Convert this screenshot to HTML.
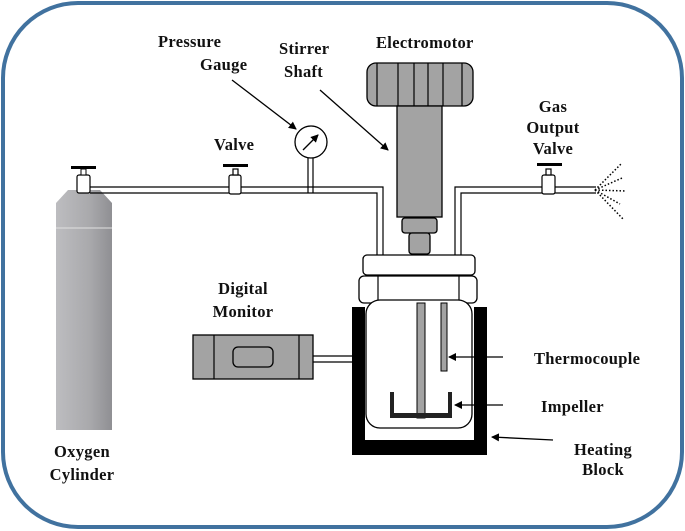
<!DOCTYPE html>
<html><head><style>body{margin:0;background:#fff}svg{display:block}text{font-family:"Liberation Serif",serif;font-weight:bold;font-size:16.5px;letter-spacing:0.3px;fill:#111}</style></head><body>
<svg width="685" height="531" viewBox="0 0 685 531">
<defs>
<linearGradient id="cy" x1="0" x2="1"><stop offset="0" stop-color="#bdbdc0"/><stop offset="0.6" stop-color="#a9a9ac"/><stop offset="1" stop-color="#8f8f93"/></linearGradient>
<marker id="ar" markerWidth="8" markerHeight="8" refX="7" refY="4" orient="auto" markerUnits="userSpaceOnUse"><path d="M0,0 L8,4 L0,8 Z" fill="#000"/></marker>
</defs>
<rect x="3" y="3" width="679" height="524" rx="75" fill="none" stroke="#41729f" stroke-width="4"/>
<path d="M56,203 L68,190 L100,190 L112,203 L112,430 L56,430 Z" fill="url(#cy)"/>
<line x1="56" y1="228" x2="112" y2="228" stroke="#e0e0e0" stroke-width="1"/>
<rect x="77" y="175" width="13" height="18" rx="2" fill="#fff" stroke="#000" stroke-width="1.2"/>
<rect x="81" y="169" width="5" height="6" fill="#fff" stroke="#000"/>
<rect x="71" y="166" width="25" height="3" fill="#000"/>
<g fill="none" stroke="#000" stroke-width="1.2">
<path d="M90,187 H383 V255"/><path d="M90,193 H377 V255"/>
<path d="M596,187 H455 V255"/><path d="M596,193 H461 V255"/>
<line x1="308" y1="158" x2="308" y2="193"/><line x1="313" y1="158" x2="313" y2="193"/>
<line x1="313" y1="356" x2="352" y2="356"/><line x1="313" y1="362" x2="352" y2="362"/>
</g>
<g fill="#fff" stroke="#000" stroke-width="1.2">
<rect x="229" y="175" width="12" height="19" rx="2"/><rect x="233" y="169" width="5" height="6"/>
<rect x="542" y="175" width="13" height="19" rx="2"/><rect x="546" y="169" width="5" height="6"/>
</g>
<rect x="223" y="164" width="25" height="3" fill="#000"/>
<rect x="537" y="163" width="25" height="3" fill="#000"/>
<g stroke="#000" stroke-width="1.5" stroke-dasharray="1.5,2">
<line x1="595" y1="190" x2="622" y2="163"/><line x1="595" y1="190" x2="622" y2="178"/><line x1="595" y1="190" x2="626" y2="191"/><line x1="595" y1="190" x2="620" y2="204"/><line x1="595" y1="190" x2="623" y2="219"/>
</g>
<circle cx="311" cy="142" r="16" fill="#fff" stroke="#000" stroke-width="1.3"/>
<line x1="303" y1="150" x2="318" y2="135" stroke="#000" stroke-width="1.3" marker-end="url(#ar)"/>
<rect x="367" y="63" width="106" height="43" rx="9" fill="#a3a3a3" stroke="#000" stroke-width="1.3"/>
<g stroke="#000" stroke-width="1.2"><line x1="377" y1="63" x2="377" y2="106"/><line x1="398" y1="63" x2="398" y2="106"/><line x1="414" y1="63" x2="414" y2="106"/><line x1="428" y1="63" x2="428" y2="106"/><line x1="443" y1="63" x2="443" y2="106"/><line x1="462" y1="63" x2="462" y2="106"/></g>
<rect x="397" y="106" width="45" height="111" fill="#a3a3a3" stroke="#000" stroke-width="1.3"/>
<rect x="402" y="218" width="35" height="15" rx="3" fill="#a3a3a3" stroke="#000" stroke-width="1.3"/>
<rect x="409" y="233" width="21" height="21" rx="3" fill="#a3a3a3" stroke="#000" stroke-width="1.3"/>
<rect x="363" y="255" width="112" height="20" rx="4" fill="#fff" stroke="#000" stroke-width="1.3"/>
<rect x="359" y="276" width="118" height="27" rx="5" fill="#fff" stroke="#000" stroke-width="1.3"/>
<line x1="378" y1="276" x2="378" y2="303" stroke="#000" stroke-width="1.2"/><line x1="459" y1="276" x2="459" y2="303" stroke="#000" stroke-width="1.2"/>
<path d="M352,307 H365 V440 H474 V307 H487 V455 H352 Z" fill="#000"/>
<rect x="366" y="300" width="106" height="128" rx="14" fill="#fff" stroke="#000" stroke-width="1.3"/>
<rect x="417" y="303" width="8" height="115" fill="#a3a3a3" stroke="#000" stroke-width="1"/>
<rect x="441" y="303" width="6" height="68" fill="#a3a3a3" stroke="#000" stroke-width="1"/>
<path d="M390,392 H394 V413 H448 V392 H452 V418 H390 Z" fill="#222"/>
<rect x="193" y="335" width="120" height="44" fill="#a3a3a3" stroke="#000" stroke-width="1.3"/>
<line x1="214" y1="335" x2="214" y2="379" stroke="#000" stroke-width="1.2"/><line x1="299" y1="335" x2="299" y2="379" stroke="#000" stroke-width="1.2"/>
<rect x="233" y="347" width="40" height="20" rx="5" fill="#a3a3a3" stroke="#000" stroke-width="1.3"/>
<g stroke="#000" stroke-width="1.3" marker-end="url(#ar)">
<line x1="232" y1="80" x2="296" y2="129"/>
<line x1="320" y1="90" x2="388" y2="150"/>
<line x1="503" y1="357" x2="449" y2="357"/>
<line x1="503" y1="405" x2="455" y2="405"/>
<line x1="553" y1="440" x2="492" y2="437"/>
</g>
<text x="158" y="47">Pressure</text><text x="200" y="70">Gauge</text>
<text x="279" y="54">Stirrer</text><text x="284" y="77">Shaft</text>
<text x="376" y="48">Electromotor</text>
<text x="214" y="150">Valve</text>
<text x="553" y="112" text-anchor="middle">Gas</text><text x="553" y="133" text-anchor="middle">Output</text><text x="553" y="154" text-anchor="middle">Valve</text>
<text x="243" y="294" text-anchor="middle">Digital</text><text x="243" y="317" text-anchor="middle">Monitor</text>
<text x="534" y="364">Thermocouple</text>
<text x="541" y="412">Impeller</text>
<text x="603" y="455" text-anchor="middle">Heating</text><text x="603" y="475" text-anchor="middle">Block</text>
<text x="82" y="457" text-anchor="middle">Oxygen</text><text x="82" y="480" text-anchor="middle">Cylinder</text>
</svg>
</body></html>
